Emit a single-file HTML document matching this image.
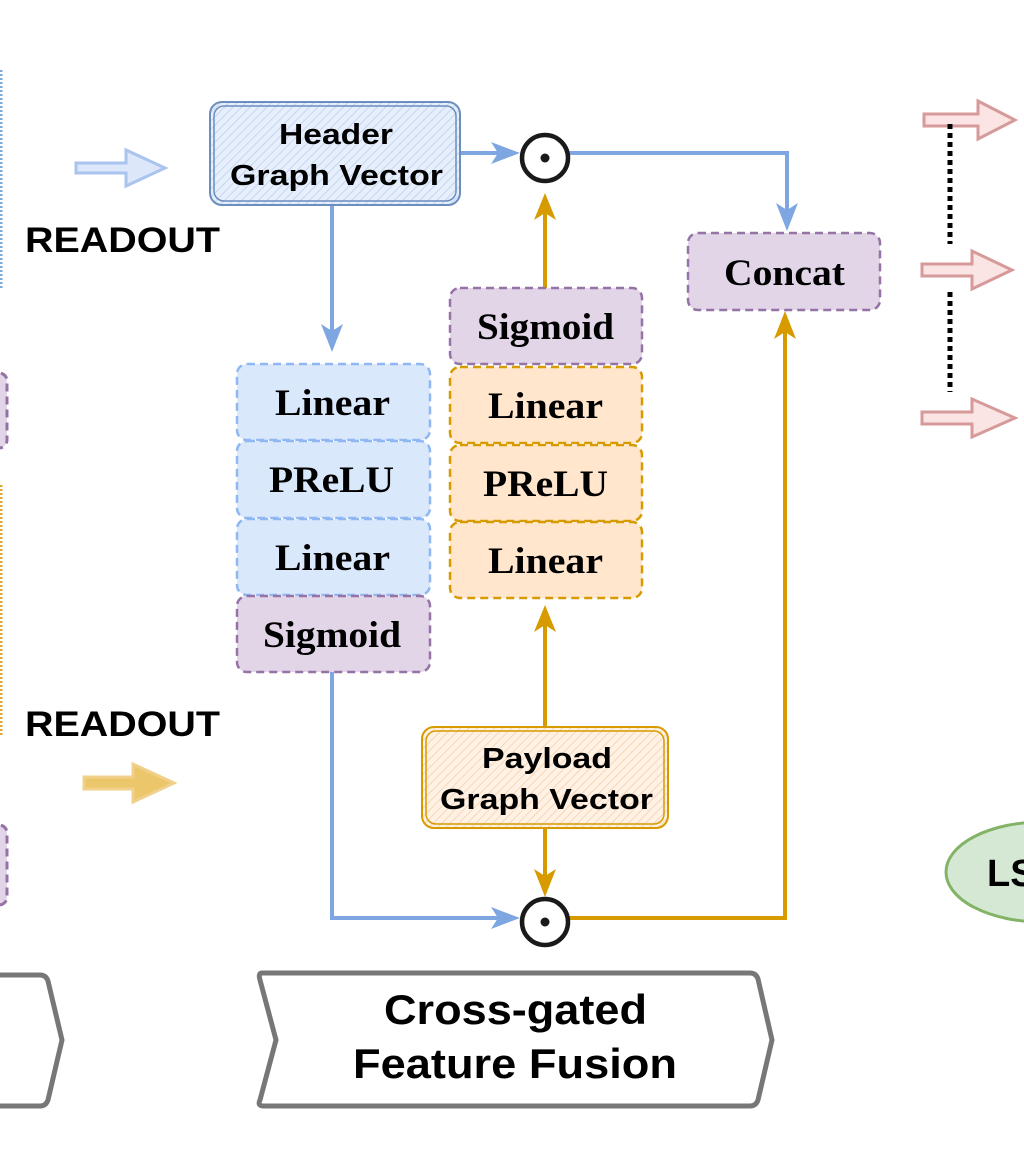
<!DOCTYPE html>
<html><head><meta charset="utf-8"><style>html,body{margin:0;padding:0;background:#fff}svg{display:block}</style></head>
<body>
<svg width="1024" height="1164" viewBox="0 0 1024 1164" xmlns="http://www.w3.org/2000/svg">
<defs>
<pattern id="hb" width="6" height="6" patternUnits="userSpaceOnUse" patternTransform="rotate(45)"><rect width="6" height="6" fill="#e6effb"/><line x1="0" y1="0" x2="0" y2="6" stroke="#c4d6f0" stroke-width="2"/></pattern>
<pattern id="ho" width="6" height="6" patternUnits="userSpaceOnUse" patternTransform="rotate(45)"><rect width="6" height="6" fill="#fff1e4"/><line x1="0" y1="0" x2="0" y2="6" stroke="#f7d6b8" stroke-width="2"/></pattern>
</defs>
<g font-family="'Liberation Sans',Arial,sans-serif" font-weight="bold">
<line x1="1" y1="70" x2="1" y2="290" stroke="#7ea6e0" stroke-width="3" stroke-dasharray="2 2"/>
<rect x="-20" y="373" width="27" height="75" rx="8" fill="#e1d5e7" stroke="#9673a6" stroke-width="3" stroke-dasharray="8 5"/>
<line x1="1" y1="485" x2="1" y2="735" stroke="#e0a82a" stroke-width="3" stroke-dasharray="2 2"/>
<rect x="-20" y="825" width="27" height="80" rx="8" fill="#e1d5e7" stroke="#9673a6" stroke-width="3" stroke-dasharray="8 5"/>
<text x="25" y="252" font-size="35" textLength="195" lengthAdjust="spacingAndGlyphs">READOUT</text>
<text x="25" y="736" font-size="35" textLength="195" lengthAdjust="spacingAndGlyphs">READOUT</text>
<path d="M76,163 H126 V150 L165,168 L126,186 V173 H76 Z" fill="#dce8fa" stroke="#a9c4ef" stroke-width="3"/>
<path d="M84,777 H133 V764 L174,783 L133,802 V789 H84 Z" fill="#ecc66a" stroke="#f0d08a" stroke-width="3"/>
<path d="M924,114 H978 V101 L1015,120 L978,139 V126 H924 Z" fill="#fbe4e4" stroke="#d79a9a" stroke-width="3"/>
<path d="M922,264 H972 V251 L1012,270 L972,289 V276 H922 Z" fill="#fbe4e4" stroke="#d79a9a" stroke-width="3"/>
<path d="M922,412 H972 V399 L1015,418 L972,437 V424 H922 Z" fill="#fbe4e4" stroke="#d79a9a" stroke-width="3"/>
<line x1="950" y1="124" x2="950" y2="244" stroke="#000" stroke-width="5" stroke-dasharray="5 4"/>
<line x1="950" y1="292" x2="950" y2="392" stroke="#000" stroke-width="5" stroke-dasharray="5 4"/>
<ellipse cx="1042" cy="872" rx="96" ry="50" fill="#d5e8d4" stroke="#82b366" stroke-width="3"/>
<text x="987" y="886" font-size="38">LS</text>
<path d="M-10,975 H40 Q46,975 48,981 L62,1040 L48,1100 Q46,1106 40,1106 H-10" fill="#fff" stroke="#777" stroke-width="5"/>
<path d="M262,973 H750 Q756,973 758,979 L772,1040 L758,1100 Q756,1106 750,1106 H264 Q257,1106 260,1100 L276,1040 L260,980 Q258,973 262,973 Z" fill="#fff" stroke="#777" stroke-width="5"/>
<text x="384" y="1024" font-size="42" textLength="263" lengthAdjust="spacingAndGlyphs">Cross-gated</text>
<text x="353" y="1078" font-size="42" textLength="324" lengthAdjust="spacingAndGlyphs">Feature Fusion</text>
<g stroke="#7ea6e0" stroke-width="4" fill="none">
<path d="M460,153 H508"/>
<path d="M568,153 H787 V216"/>
<path d="M332,205 V334"/>
<path d="M332,672 V918 H505"/>
</g>
<g fill="#7ea6e0">
<path d="M520,153 L491,142 L498,153 L491,164 Z"/>
<path d="M787,231 L776,203 L787,210 L798,203 Z"/>
<path d="M332,352 L321,324 L332,331 L343,324 Z"/>
<path d="M520,918 L491,907 L498,918 L491,929 Z"/>
</g>
<g stroke="#d79b00" stroke-width="4" fill="none">
<path d="M545,288 V205"/>
<path d="M545,727 V620"/>
<path d="M545,828 V882"/>
<path d="M568,918 H785 V325"/>
</g>
<g fill="#d79b00">
<path d="M545,193 L534,220 L545,213 L556,220 Z"/>
<path d="M545,605 L534,632 L545,625 L556,632 Z"/>
<path d="M545,897 L534,869 L545,876 L556,869 Z"/>
<path d="M785,311 L774,339 L785,332 L796,339 Z"/>
</g>
<circle cx="545" cy="158" r="23" fill="#fff" stroke="#1a1a1a" stroke-width="4.5"/>
<circle cx="545" cy="158" r="4.5" fill="#1a1a1a"/>
<circle cx="545" cy="922" r="23" fill="#fff" stroke="#1a1a1a" stroke-width="4.5"/>
<circle cx="545" cy="922" r="4.5" fill="#1a1a1a"/>
<rect x="210" y="102" width="250" height="103" rx="12" fill="url(#hb)" stroke="#6c8ebf" stroke-width="2"/>
<rect x="214" y="106" width="242" height="95" rx="10" fill="none" stroke="#6c8ebf" stroke-width="1.5"/>
<text x="279" y="144" font-size="29" textLength="114" lengthAdjust="spacingAndGlyphs">Header</text>
<text x="230" y="185" font-size="29" textLength="213" lengthAdjust="spacingAndGlyphs">Graph Vector</text>
<rect x="422" y="727" width="246" height="101" rx="12" fill="url(#ho)" stroke="#d79b00" stroke-width="2"/>
<rect x="426" y="731" width="238" height="93" rx="10" fill="none" stroke="#d79b00" stroke-width="1.5"/>
<text x="482" y="768" font-size="29" textLength="130" lengthAdjust="spacingAndGlyphs">Payload</text>
<text x="440" y="809" font-size="29" textLength="213" lengthAdjust="spacingAndGlyphs">Graph Vector</text>
</g>
<g font-family="'Liberation Serif','Times New Roman',serif" font-weight="bold" font-size="37" stroke-width="2.5" stroke-dasharray="8 5">
<rect x="688" y="233" width="192" height="77" rx="10" fill="#e1d5e7" stroke="#9673a6"/>
<text x="724" y="285" stroke="none" textLength="121" lengthAdjust="spacingAndGlyphs">Concat</text>
<rect x="237" y="364" width="193" height="76" rx="10" fill="#dae8fc" stroke="#8fb8f2"/>
<rect x="237" y="441" width="193" height="77" rx="10" fill="#dae8fc" stroke="#8fb8f2"/>
<rect x="237" y="519" width="193" height="76" rx="10" fill="#dae8fc" stroke="#8fb8f2"/>
<rect x="237" y="596" width="193" height="76" rx="10" fill="#e1d5e7" stroke="#9673a6"/>
<text x="275" y="415" stroke="none" textLength="115" lengthAdjust="spacingAndGlyphs">Linear</text>
<text x="269" y="492" stroke="none" textLength="125" lengthAdjust="spacingAndGlyphs">PReLU</text>
<text x="275" y="570" stroke="none" textLength="115" lengthAdjust="spacingAndGlyphs">Linear</text>
<text x="263" y="647" stroke="none" textLength="138" lengthAdjust="spacingAndGlyphs">Sigmoid</text>
<rect x="450" y="288" width="192" height="76" rx="10" fill="#e1d5e7" stroke="#9673a6"/>
<rect x="450" y="367" width="192" height="76" rx="10" fill="#ffe6cc" stroke="#d79b00"/>
<rect x="450" y="445" width="192" height="76" rx="10" fill="#ffe6cc" stroke="#d79b00"/>
<rect x="450" y="522" width="192" height="76" rx="10" fill="#ffe6cc" stroke="#d79b00"/>
<text x="477" y="339" stroke="none" textLength="137" lengthAdjust="spacingAndGlyphs">Sigmoid</text>
<text x="488" y="418" stroke="none" textLength="115" lengthAdjust="spacingAndGlyphs">Linear</text>
<text x="483" y="496" stroke="none" textLength="125" lengthAdjust="spacingAndGlyphs">PReLU</text>
<text x="488" y="573" stroke="none" textLength="115" lengthAdjust="spacingAndGlyphs">Linear</text>
</g>
</svg>
</body></html>
